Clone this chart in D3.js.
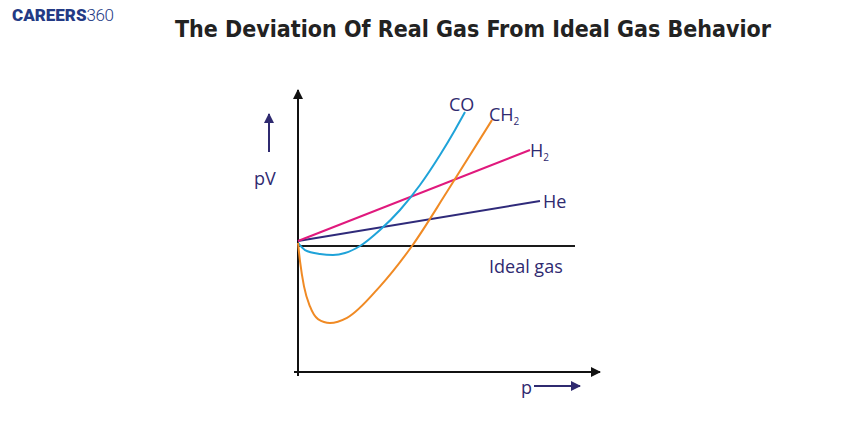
<!DOCTYPE html>
<html><head><meta charset="utf-8">
<script src="https://cdn.jsdelivr.net/npm/d3@7"></script>
<style>body{margin:0;background:#fff}</style>
</head><body><div id="chart"></div>
<script>
// pressure (relative) vs pV, ideal gas pV = 1
const heP = [0, 242], heV = [1.04, 1.357];
const h2P = [0, 232], h2V = [1.04, 1.762];
const coP = [0, 7, 22, 35, 47, 62, 82, 102, 122, 142, 157, 167];
const coV = [1.024, 0.968, 0.937, 0.929, 0.944, 1.0, 1.127, 1.286, 1.484, 1.722, 1.921, 2.063];
const ch2P = [0, 2, 6, 12, 20, 32, 49, 82, 114, 149, 194];
const ch2V = [1.024, 0.88, 0.68, 0.52, 0.42, 0.389, 0.43, 0.68, 1.0, 1.43, 2.0];
const idealP = [0, 277], idealV = [1, 1];

const W = 860, H = 430;
const svg = d3.select("#chart").append("svg").attr("width", W).attr("height", H);
const x = d3.scaleLinear().domain([0, 300]).range([298, 598]);
const y = d3.scaleLinear().domain([0, 1]).range([372, 246]);
const navy = "#2f2a70";

// header
svg.append("text").attr("x", 12).attr("y", 21).attr("font-family", "Roboto, Arial")
  .attr("font-size", 17).attr("font-weight", 900).attr("fill", "#233a85").text("CAREERS")
  .append("tspan").attr("font-weight", 300).attr("letter-spacing", -0.5).text("360");
svg.append("text").attr("x", 473).attr("y", 37).attr("text-anchor", "middle")
  .attr("font-family", "DejaVu Sans Condensed, DejaVu Sans").attr("font-weight", "bold")
  .attr("font-size", 23).attr("fill", "#222").text("The Deviation Of Real Gas From Ideal Gas Behavior");

// axes
const defs = svg.append("defs");
defs.append("marker").attr("id", "ah").attr("viewBox", "0 0 10 10").attr("refX", 9).attr("refY", 5)
  .attr("markerWidth", 5).attr("markerHeight", 5).attr("orient", "auto")
  .append("path").attr("d", "M0,0L10,5L0,10Z").attr("fill", "#111");
defs.append("marker").attr("id", "ahn").attr("viewBox", "0 0 10 10").attr("refX", 9).attr("refY", 5)
  .attr("markerWidth", 5).attr("markerHeight", 5).attr("orient", "auto")
  .append("path").attr("d", "M0,0L10,5L0,10Z").attr("fill", navy);

svg.append("line").attr("x1", x(0)).attr("y1", 376).attr("x2", x(0)).attr("y2", 90)
  .attr("stroke", "#111").attr("stroke-width", 2).attr("marker-end", "url(#ah)");
svg.append("line").attr("x1", 294).attr("y1", y(0)).attr("x2", 600).attr("y2", y(0))
  .attr("stroke", "#111").attr("stroke-width", 2).attr("marker-end", "url(#ah)");

const line = d3.line().x(d => x(d[0])).y(d => y(d[1]));
const series = [
  {p: idealP, v: idealV, c: "#1a1a1a", curve: d3.curveLinear},
  {p: heP, v: heV, c: "#2f2a7a", curve: d3.curveLinear},
  {p: h2P, v: h2V, c: "#e0197d", curve: d3.curveLinear},
  {p: coP, v: coV, c: "#1fa3d9", curve: d3.curveMonotoneX},
  {p: ch2P, v: ch2V, c: "#f08a24", curve: d3.curveMonotoneX}
];
series.forEach(s => {
  svg.append("path").datum(s.p.map((p, i) => [p, s.v[i]]))
    .attr("d", line.curve(s.curve)).attr("fill", "none")
    .attr("stroke", s.c).attr("stroke-width", 2);
});

const lab = (tx, ty, t, sub, fs) => {
  const e = svg.append("text").attr("x", tx).attr("y", ty).attr("font-family", "Open Sans, Noto Sans")
    .attr("font-size", fs || 18).attr("fill", navy).text(t);
  if (sub) e.append("tspan").attr("font-size", 10).attr("dy", 4).text(sub);
};
lab(449, 111, "CO");
lab(489, 121, "CH", "2");
lab(530, 157, "H", "2");
lab(543, 208, "He");
lab(489, 273, "Ideal gas");
lab(254, 185, "pV");
lab(521, 394, "p");

svg.append("line").attr("x1", 269).attr("y1", 152).attr("x2", 269).attr("y2", 114)
  .attr("stroke", navy).attr("stroke-width", 2).attr("marker-end", "url(#ahn)");
svg.append("line").attr("x1", 534).attr("y1", 386).attr("x2", 580).attr("y2", 386)
  .attr("stroke", navy).attr("stroke-width", 2).attr("marker-end", "url(#ahn)");
</script></body></html>
